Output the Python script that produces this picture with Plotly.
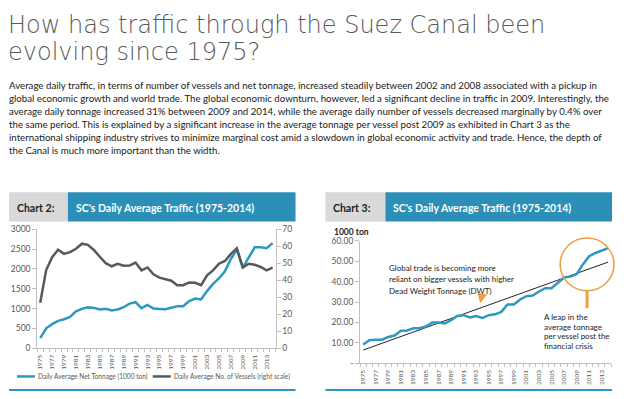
import plotly.graph_objects as go
import numpy as np

W, H = 638, 399

years = list(range(1975, 2015))
net_tonnage = [253, 500, 607, 690, 730, 787, 927, 992, 1033, 1016,
               975, 992, 950, 976, 1033, 1124, 1160, 1010, 1090, 1000,
               990, 980, 1020, 1060, 1060, 1190, 1250, 1230, 1440, 1620,
               1760, 1940, 2250, 2490, 2030, 2300, 2545, 2545, 2520, 2650]
vessels = [26.7, 46.0, 53.5, 58.0, 55.5, 56.5, 58.5, 61.5, 60.8, 57.8,
           53.8, 50.0, 48.2, 49.6, 48.5, 48.6, 50.4, 45.8, 47.5, 43.5,
           41.5, 40.4, 39.7, 37.1, 37.1, 38.7, 38.5, 37.1, 42.9, 45.8,
           49.7, 51.3, 55.5, 58.8, 47.4, 49.7, 49.1, 47.8, 45.8, 47.4]
tonnage_per_vessel = [9.2, 11.3, 11.6, 11.6, 12.9, 13.6, 16.0, 16.1, 17.2, 17.2,
                      18.0, 20.0, 20.0, 19.5, 21.2, 23.2, 23.6, 22.5, 23.2, 22.2,
                      23.6, 24.0, 25.2, 28.8, 28.8, 31.3, 32.9, 33.2, 35.2, 36.8,
                      36.8, 39.7, 42.1, 42.5, 43.7, 48.5, 52.5, 54.1, 55.4, 56.5]
tick_years = list(range(1975, 2014, 2))
c3_ticks = [0, 10, 20, 30, 40, 50, 60]
c3_ticktext = ["-", "10.00", "20.00", "30.00", "40.00", "50.00", "60.00"]
legend_names = ["Daily Average Net Tonnage (1000 ton)", "Daily Average No. of Vessels (right scale)"]

BLUE = "#2e98c2"
GRAY = "#595959"
HEAD_BLUE = "#2c8fb8"
HEAD_GRAY = "#d9d9d9"
ORANGE = "#eea040"

def px(x):
    return x / W

def py(y):
    return 1 - y / H

# trend line fitted to chart 3 data
coef = np.polyfit(years, tonnage_per_vessel, 1)
trend = np.polyval(coef, years)

fig = go.Figure()
fig.add_trace(go.Scatter(x=years, y=net_tonnage, mode="lines", name=legend_names[0], showlegend=False,
                         line=dict(color=BLUE, width=2.5), xaxis="x", yaxis="y"))
fig.add_trace(go.Scatter(x=years, y=vessels, mode="lines", name=legend_names[1], showlegend=False,
                         line=dict(color=GRAY, width=2.5), xaxis="x", yaxis="y2"))
fig.add_trace(go.Scatter(x=years, y=trend, mode="lines", showlegend=False,
                         line=dict(color="#222222", width=1), xaxis="x3", yaxis="y3"))
fig.add_trace(go.Scatter(x=years, y=tonnage_per_vessel, mode="lines", showlegend=False,
                         line=dict(color=BLUE, width=2.5), xaxis="x3", yaxis="y3"))

axis_common = dict(showgrid=False, zeroline=False, linecolor="#bfbfbf", linewidth=1,
                   tickcolor="#bfbfbf", ticks="outside", ticklen=4)
xcommon = dict(range=[1974.5, 2014.5], tickmode="array", tickvals=tick_years,
               ticktext=[str(v) for v in tick_years], tickangle=-90,
               tickfont=dict(size=6.5, color=GRAY), ticks="outside", ticklen=3,
               minor=dict(ticks="outside", tick0=1974.5, dtick=1, ticklen=3, tickcolor="#bfbfbf"),
               showgrid=False, zeroline=False, linecolor="#bfbfbf", tickcolor="rgba(0,0,0,0)")

fig.update_layout(
    width=W, height=H, margin=dict(l=0, r=0, t=0, b=0),
    paper_bgcolor="white", plot_bgcolor="white",
    font=dict(family="Lato", color=GRAY),
    showlegend=False,
    xaxis=dict(domain=[px(36.3), px(275.0)], anchor="y", **xcommon),
    yaxis=dict(domain=[py(352), py(230)], range=[0, 3000], dtick=500, anchor="x",
               tickfont=dict(size=8.5, color=GRAY), **axis_common),
    yaxis2=dict(range=[0, 70], dtick=10, overlaying="y", side="right", anchor="x",
                tickfont=dict(size=8.5, color=GRAY), **axis_common),
    xaxis3=dict(domain=[px(359.6), px(611.1)], anchor="y3", **xcommon),
    yaxis3=dict(domain=[py(367.5), py(242)], range=[0, 60], anchor="x3",
                tickmode="array", tickvals=c3_ticks, ticktext=c3_ticktext,
                tickfont=dict(size=8.5, color=GRAY), **axis_common),
)

shapes = []
# header boxes and bottom rules
for gx0, gx1, bx1 in [(8, 67, 295), (325, 385, 612)]:
    shapes.append(dict(type="rect", xref="paper", yref="paper", x0=px(gx0), x1=px(gx1),
                       y0=py(222), y1=py(192), fillcolor=HEAD_GRAY, line=dict(width=0), layer="below"))
    shapes.append(dict(type="rect", xref="paper", yref="paper", x0=px(gx1), x1=px(bx1),
                       y0=py(222), y1=py(192), fillcolor=HEAD_BLUE, line=dict(width=0), layer="below"))
    shapes.append(dict(type="line", xref="paper", yref="paper", x0=px(gx0), x1=px(bx1),
                       y0=py(395), y1=py(395), line=dict(color=BLUE, width=2)))
# manual legend samples
for x0, col in [(16, BLUE), (152, GRAY)]:
    shapes.append(dict(type="line", xref="paper", yref="paper", x0=px(x0), x1=px(x0 + 18),
                       y0=py(381), y1=py(381), line=dict(color=col, width=2.5)))
# orange circle and stick
shapes.append(dict(type="circle", xref="paper", yref="paper", x0=px(560), x1=px(614),
                   y0=py(293), y1=py(239), line=dict(color=ORANGE, width=1.5)))
shapes.append(dict(type="line", xref="paper", yref="paper", x0=px(587), x1=px(587),
                   y0=py(293), y1=py(311), line=dict(color=ORANGE, width=3)))
fig.update_layout(shapes=shapes)

ann = []
title_lines = ["How has traffic through the Suez Canal been", "evolving since 1975?"]
for i, t in enumerate(title_lines):
    ann.append(dict(text=t, xref="paper", yref="paper", x=px(5), y=py(21 + 27 * i),
                    xanchor="left", yanchor="middle", showarrow=False,
                    font=dict(family="DejaVu Sans ExtraLight, DejaVu Sans", size=24,
                              color="#5a5a5a", weight=200)))
para = [
    "Average daily traffic, in terms of number of vessels and net tonnage, increased steadily between 2002 and 2008 associated with a pickup in",
    "global economic growth and world trade. The global economic downturn, however, led a significant decline in traffic in 2009. Interestingly, the",
    "average daily tonnage increased 31% between 2009 and 2014, while the average daily number of vessels decreased marginally by 0.4% over",
    "the same period. This is explained by a significant increase in the average tonnage per vessel post 2009 as exhibited in Chart 3 as the",
    "international shipping industry strives to minimize marginal cost amid a slowdown in global economic activity and trade. Hence, the depth of",
    "the Canal is much more important than the width.",
]
for i, t in enumerate(para):
    ann.append(dict(text=t, xref="paper", yref="paper", x=px(6), y=py(82 + 13.3 * i),
                    xanchor="left", yanchor="middle", showarrow=False,
                    font=dict(family="Lato", size=9.7, color="#202020")))
# header texts
for x, t in [(14, "Chart 2:"), (331, "Chart 3:")]:
    ann.append(dict(text="<b>" + t + "</b>", xref="paper", yref="paper", x=px(x), y=py(208),
                    xanchor="left", yanchor="middle", showarrow=False,
                    font=dict(family="Lato", size=10.5, color="#222222")))
for x in [73, 391]:
    ann.append(dict(text="<b>SC's Daily Average Traffic (1975-2014)</b>", xref="paper", yref="paper",
                    x=px(x), y=py(208), xanchor="left", yanchor="middle", showarrow=False,
                    font=dict(family="Lato", size=10.5, color="white")))
ann.append(dict(text="<b>1000 ton</b>", xref="paper", yref="paper", x=px(332), y=py(233),
                xanchor="left", yanchor="middle", showarrow=False,
                font=dict(family="Lato", size=8.5, color="#222222")))
for i, t in enumerate(["Global trade is becoming more", "reliant on bigger vessels with higher",
                       "Dead Weight Tonnage (DWT)"]):
    ann.append(dict(text=t, xref="paper", yref="paper", x=px(387), y=py(270 + 11.5 * i),
                    xanchor="left", yanchor="middle", showarrow=False,
                    font=dict(family="Lato", size=8, color="#222222")))
for i, t in enumerate(["A leap in the", "average tonnage", "per vessel post the", "financial crisis"]):
    ann.append(dict(text=t, xref="paper", yref="paper", x=px(542), y=py(320 + 10 * i),
                    xanchor="left", yanchor="middle", showarrow=False,
                    font=dict(family="Lato", size=8, color="#222222")))
# legend texts
for x, t in [(35, legend_names[0]), (171, legend_names[1])]:
    ann.append(dict(text=t, xref="paper", yref="paper", x=px(x), y=py(381),
                    xanchor="left", yanchor="middle", showarrow=False,
                    font=dict(family="Lato", size=6.6, color=GRAY)))
ann.append(dict(text="", xref="paper", yref="paper", x=px(480), y=py(306), ax=2, ay=-10,
                showarrow=True, arrowhead=2, arrowsize=1, arrowwidth=2, arrowcolor=ORANGE))
fig.update_layout(annotations=ann)

fig.write_html("out.html", config={"displayModeBar": False},
               post_script="document.body.style.margin='0';document.body.style.padding='0';")
